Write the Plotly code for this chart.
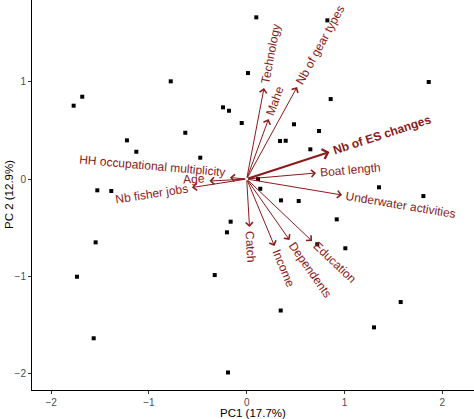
import math
import plotly.graph_objects as go

# ---- data ----
pc1 = [-1.770, -1.682, -0.777, -1.225, -1.129, -0.628, -0.475, -0.242, -0.181, -1.528,
       -1.385, 0.098, 0.825, 0.013, 1.862, 0.859, -0.051, 0.484, 0.740, 0.341,
       0.399, 0.651, 0.116, 0.139, 1.353, 1.807, 0.351, 0.532, -1.545, -1.736,
       -1.565, -0.164, -0.202, -0.327, -0.191, 0.921, 1.009, 0.722, 0.348, 1.575,
       1.302]
pc2 = [0.753, 0.845, 1.003, 0.397, 0.280, 0.475, 0.219, 0.736, 0.701, -0.116,
       -0.123, 1.660, 1.629, 1.088, 0.996, 0.821, 0.575, 0.562, 0.493, 0.390,
       0.393, 0.305, 0.000, -0.100, -0.085, -0.175, -0.219, -0.226, -0.650, -1.003,
       -1.635, -0.438, -0.547, -0.986, -1.986, -0.414, -0.711, -0.670, -1.350, -1.263,
       -1.523]

var_names = ["Technology", "Mahe", "Nb of gear types", "Nb of ES changes", "Boat length",
             "Underwater activities", "Education", "Dependents", "Income", "Catch",
             "HH occupational multiplicity", "Age", "Nb fisher jobs"]
load_x = [0.177, 0.223, 0.515, 0.847, 0.709, 0.975, 0.668, 0.438, 0.284, 0.029,
          -0.171, -0.381, -0.560]
load_y = [0.934, 0.616, 0.944, 0.277, 0.062, -0.164, -0.637, -0.626, -0.688, -0.493,
          0.015, -0.021, -0.087]
highlight = "Nb of ES changes"

x_ticks = [-2, -1, 0, 1, 2]
y_ticks = [-2, -1, 0, 1]
x_title = "PC1 (17.7%)"
y_title = "PC 2 (12.9%)"

# ---- layout / style constants ----
W, H = 474, 419
ML, MR, MT, MB = 32, 0, 0, 29
XR = [-2.196, 2.325]
YR = [-2.166, 1.838]
RED = "#8B1A1A"
FONT = "Liberation Sans, Arial, sans-serif"
FS = 12
# small pixel nudges for labels (screen px, +y = down)
LABEL_NUDGE = {"HH occupational multiplicity": (0, -5), "Age": (-1, -3)}

pxx = (W - ML - MR) / (XR[1] - XR[0])
pxy = (H - MT - MB) / (YR[1] - YR[0])

# Arial width table (per 1000 em)
REG = {' ': 278, 'A': 667, 'B': 667, 'C': 722, 'D': 722, 'E': 667, 'H': 722, 'I': 278,
       'M': 833, 'N': 722, 'S': 667, 'T': 611, 'U': 722, 'a': 556, 'b': 556, 'c': 500,
       'd': 556, 'e': 556, 'f': 278, 'g': 556, 'h': 556, 'i': 222, 'j': 222, 'k': 500,
       'l': 222, 'm': 833, 'n': 556, 'o': 556, 'p': 556, 'r': 333, 's': 500, 't': 278,
       'u': 556, 'v': 500, 'w': 722, 'x': 500, 'y': 500}
BOLD = {' ': 278, 'N': 722, 'E': 667, 'S': 667, 'a': 556, 'b': 611, 'c': 556, 'e': 556,
        'f': 333, 'g': 611, 'h': 611, 'n': 611, 'o': 611, 's': 556}


def text_w(s, bold):
    tab = BOLD if bold else REG
    return sum(tab.get(ch, 556) for ch in s) * FS / 1000.0


fig = go.Figure()
fig.add_trace(go.Scatter(x=pc1, y=pc2, mode="markers",
                         marker=dict(symbol="square", size=4, color="black"),
                         hoverinfo="skip", showlegend=False))

annotations = []
for name, lx, ly in zip(var_names, load_x, load_y):
    bold = name == highlight
    annotations.append(dict(
        x=lx, y=ly, ax=0, ay=0, xref="x", yref="y", axref="x", ayref="y",
        text="", showarrow=True, arrowhead=4,
        arrowsize=1.0 if bold else 1.4, arrowwidth=2 if bold else 1,
        arrowcolor=RED, standoff=0, startstandoff=0))
    # label placed beyond tip along arrow direction (pixel space)
    dxp, dyp = lx * pxx, ly * pxy
    L = math.hypot(dxp, dyp)
    ux, uy = dxp / L, dyp / L
    w = text_w(name, bold)
    off = 4 + w / 2
    cx = lx + ux * off / pxx
    cy = ly + uy * off / pxy
    ang = -math.degrees(math.atan2(dyp, dxp))  # screen angle, clockwise positive
    if ang > 90:
        ang -= 180
    elif ang < -90:
        ang += 180
    nx, ny = LABEL_NUDGE.get(name, (0, 0))
    label = f"<b>{name}</b>" if bold else name
    annotations.append(dict(
        x=cx, y=cy, xref="x", yref="y", text=label, showarrow=False,
        textangle=ang, xanchor="center", yanchor="middle", xshift=nx, yshift=-ny,
        font=dict(family=FONT, size=FS, color=RED)))

annotations.append(dict(x=0.5, y=0, xref="paper", yref="paper", text=x_title,
                        showarrow=False, xanchor="center", yanchor="middle", yshift=-23,
                        font=dict(family=FONT, size=11.5, color="black")))
annotations.append(dict(x=0, y=0.5, xref="paper", yref="paper", text=y_title,
                        showarrow=False, textangle=-90, xanchor="center", yanchor="middle",
                        xshift=-23, font=dict(family=FONT, size=11.5, color="black")))

axis_common = dict(showgrid=False, zeroline=False, showline=True, linecolor="black",
                   linewidth=1, ticks="outside", ticklen=3, tickcolor="#333333",
                   tickwidth=1, tickfont=dict(family=FONT, size=10, color="#4D4D4D"),
                   automargin=False)

fig.update_layout(
    width=W, height=H,
    margin=dict(l=ML, r=MR, t=MT, b=MB, pad=0),
    paper_bgcolor="white", plot_bgcolor="white",
    xaxis=dict(range=XR, tickvals=x_ticks, **axis_common),
    yaxis=dict(range=YR, tickvals=y_ticks, **axis_common),
    annotations=annotations,
    showlegend=False,
)

fig.write_html("out.html")
